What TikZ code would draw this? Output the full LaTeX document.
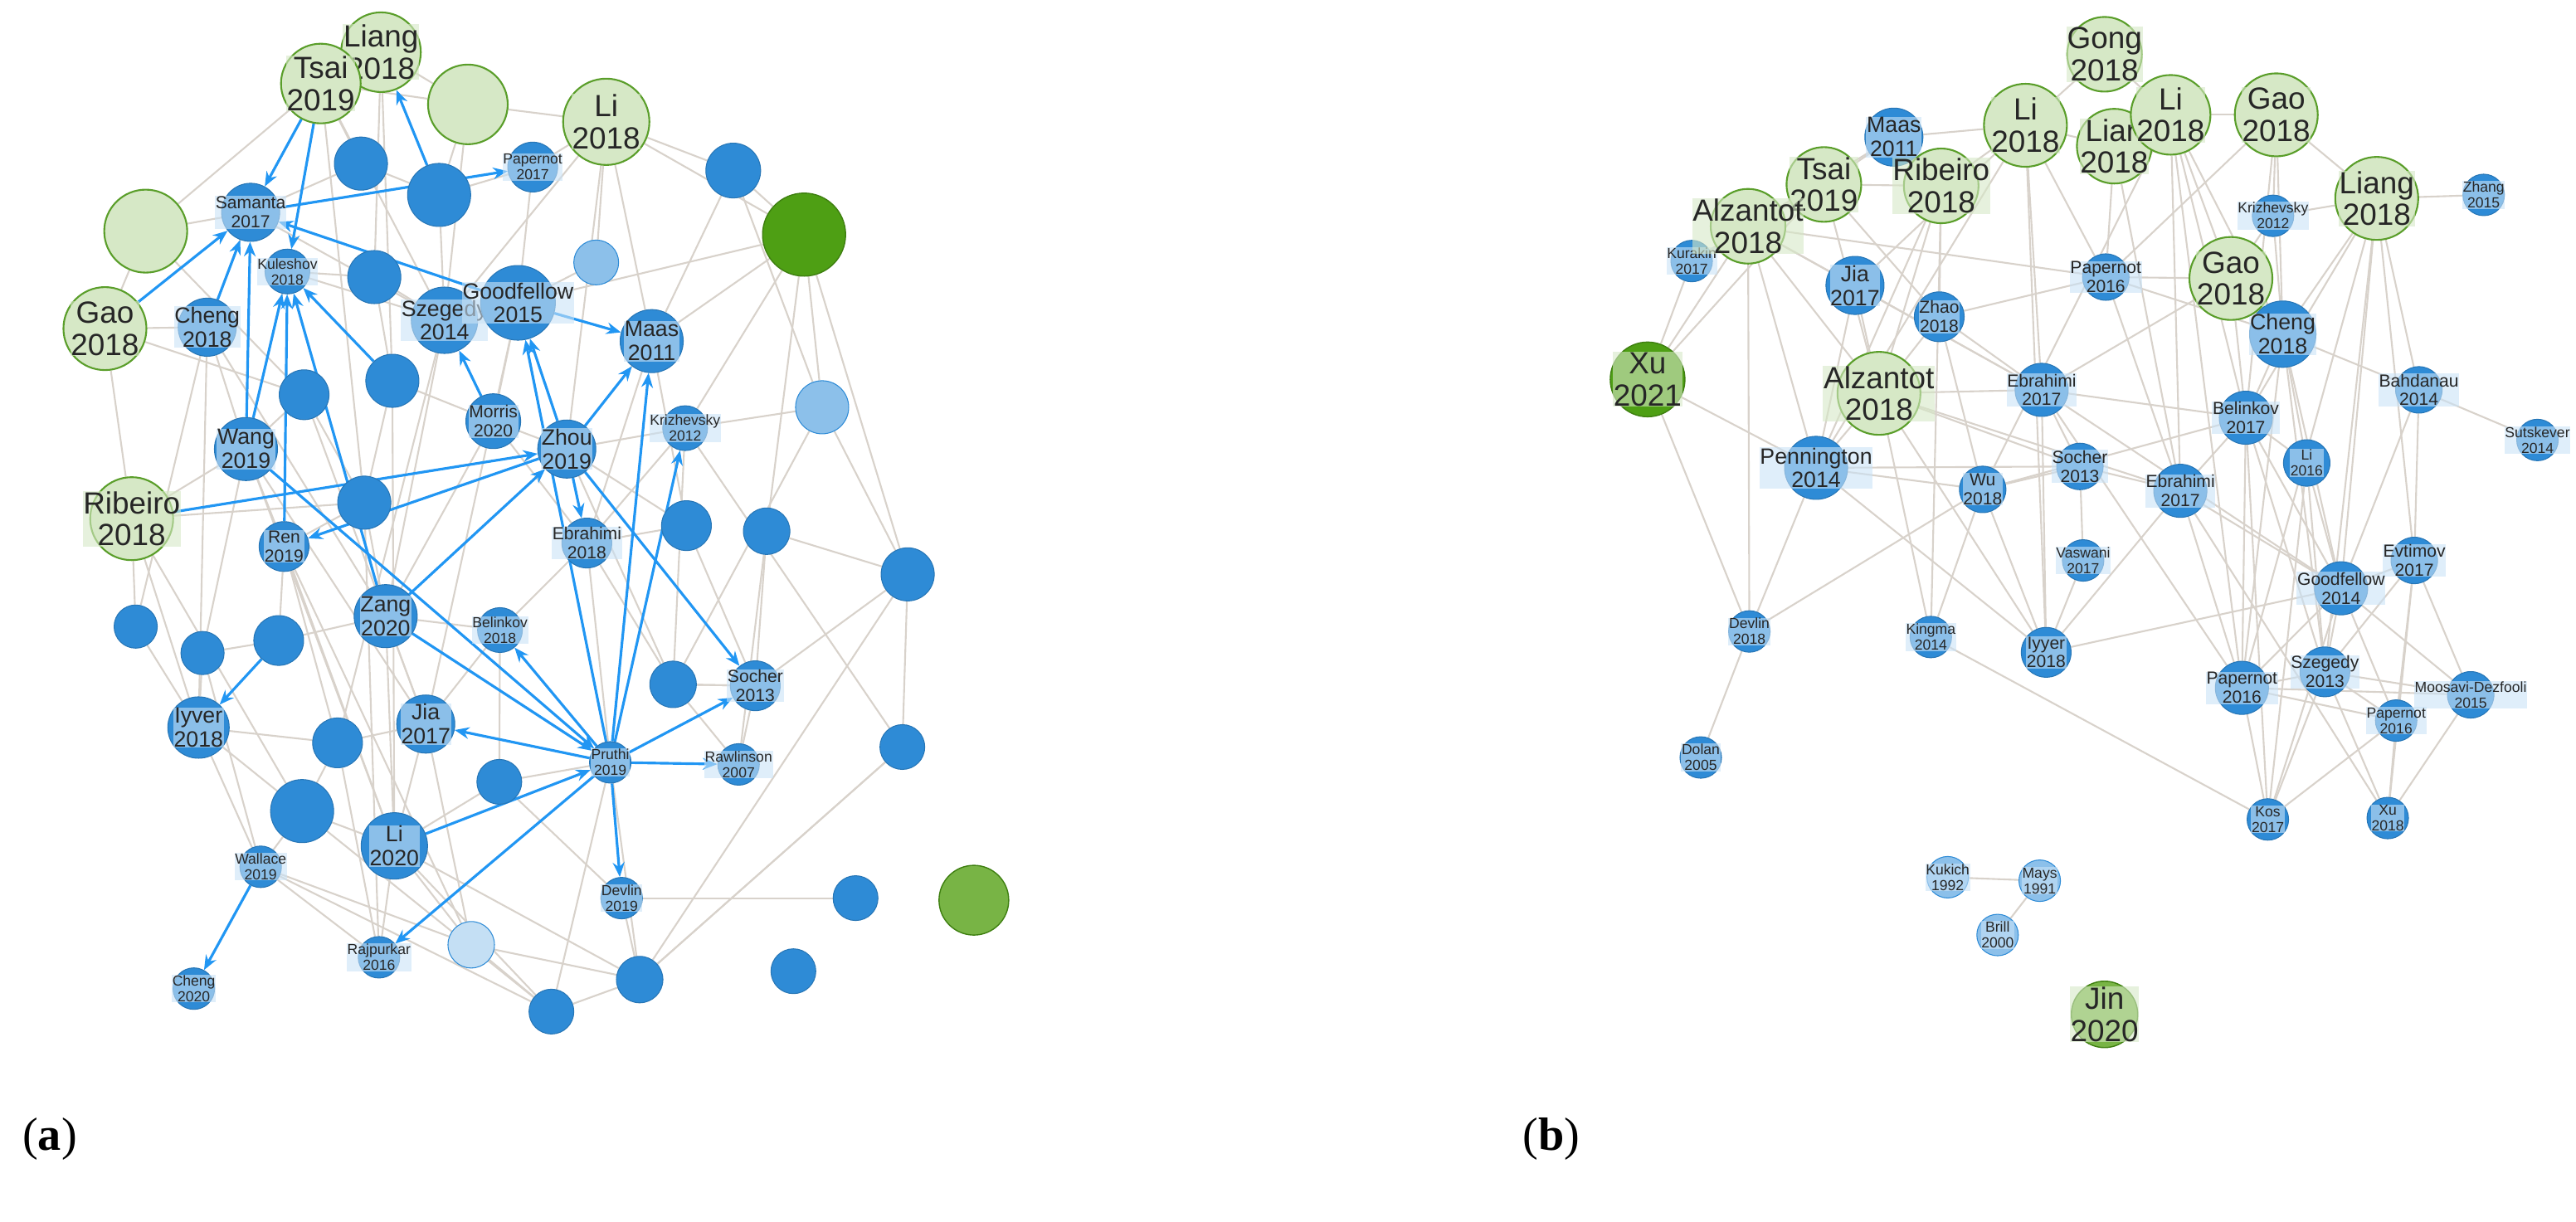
\documentclass[tikz,border=0pt]{standalone}
\usepackage{fontspec}
\setmainfont{Liberation Sans}
\newfontfamily\capfont{Liberation Serif}
\usetikzlibrary{arrows.meta}
\pgfdeclarelayer{bg}
\pgfsetlayers{bg,main}
\definecolor{blu}{HTML}{2E8BD6}
\definecolor{lblu}{HTML}{8CC0EA}
\definecolor{vlblu}{HTML}{C4DFF4}
\definecolor{labb}{HTML}{C9E2F6}
\definecolor{lgr}{HTML}{D6E8C6}
\definecolor{gbd}{HTML}{5A9E2A}
\definecolor{dgr}{HTML}{4E9F14}
\definecolor{mgr}{HTML}{78B445}
\definecolor{edg}{HTML}{D8D2CB}
\definecolor{arr}{HTML}{2196F3}
\tikzset{
 nd/.style={circle,inner sep=0pt,minimum size=#1*0.02cm},
 bn/.style={nd=#1,fill=blu,draw=blu!85!black,line width=0.3pt},
 lbn/.style={nd=#1,fill=lblu,draw=blu,line width=0.3pt},
 vbn/.style={nd=#1,fill=vlblu,draw=blu,line width=0.3pt},
 gn/.style={nd=#1,fill=lgr,draw=gbd,line width=0.6pt},
 dg/.style={nd=#1,fill=dgr,draw=dgr!80!black,line width=0.4pt},
 mg/.style={nd=#1,fill=mgr,draw=dgr!80!black,line width=0.4pt},
 lab/.style={align=center,inner sep=0.2pt,fill=labb,fill opacity=0.6,text opacity=1,text=black!85},
 glab/.style={align=center,inner sep=0.2pt,fill=lgr,fill opacity=0.6,text opacity=1,text=black!85,font=\fontsize{10.5}{11}\selectfont},
 Lb/.style={label={[glab]center:#1}},
 Lm/.style={label={[lab,font=\fontsize{7.6}{8.2}\selectfont]center:#1}},
 Ls/.style={label={[lab,font=\fontsize{6}{6.5}\selectfont]center:#1}},
 Lt/.style={label={[lab,font=\fontsize{5}{5.4}\selectfont]center:#1}},
 ge/.style={draw=edg,line width=0.6pt},
 be/.style={draw=arr,line width=0.9pt,-{Stealth[length=5pt,width=4pt]}},
}
\begin{document}
\begin{tikzpicture}
\useasboundingbox (0,0) rectangle (31.05,14.73);
% ---------------- panel (a)
\begin{scope}[shift={(0,14.73)},x={(0.00806cm,0)},y={(0,-0.00839cm)}]
\node[gn=48,Lb={Liang\\2018}] (aLiang) at (570,75) {};
\node[gn=48,Lb={Tsai\\2019}] (aTsai) at (480,120) {};
\node[gn=48] (aG1) at (700,150) {};
\node[gn=52,Lb={Li\\2018}] (aLi) at (907,175) {};
\node[gn=50] (aG2) at (218,332) {};
\node[gn=50,Lb={Gao\\2018}] (aGao) at (157,472) {};
\node[gn=50,Lb={Ribeiro\\2018}] (aRib) at (197,745) {};
\node[dg=50] (aDG) at (1203,337) {};
\node[mg=42] (aMG) at (1457,1293) {};
\node[bn=35,Ls={Samanta\\2017}] (aSam) at (375,305) {};
\node[bn=30,Lt={Papernot\\2017}] (aPap) at (797,240) {};
\node[bn=27,Lt={Kuleshov\\2018}] (aKul) at (430,390) {};
\node[bn=35,Lm={Cheng\\2018}] (aChe) at (310,470) {};
\node[bn=40,Lm={Szegedy\\2014}] (aSze) at (665,460) {};
\node[bn=45,Lm={Goodfellow\\2015}] (aGoo) at (775,435) {};
\node[bn=38,Lm={Maas\\2011}] (aMaas) at (975,490) {};
\node[bn=33,Ls={Morris\\2020}] (aMor) at (738,605) {};
\node[bn=35,Lm={Zhou\\2019}] (aZhou) at (848,645) {};
\node[bn=27,Lt={Krizhevsky\\2012}] (aKri) at (1025,615) {};
\node[bn=38,Lm={Wang\\2019}] (aWang) at (368,645) {};
\node[bn=30,Ls={Ren\\2019}] (aRen) at (425,785) {};
\node[bn=30,Ls={Ebrahimi\\2018}] (aEbr) at (878,780) {};
\node[bn=38,Lm={Zang\\2020}] (aZang) at (577,885) {};
\node[bn=27,Lt={Belinkov\\2018}] (aBel) at (748,905) {};
\node[bn=30,Ls={Socher\\2013}] (aSoc) at (1130,985) {};
\node[bn=37,Lm={Iyver\\2018}] (aIyv) at (297,1045) {};
\node[bn=35,Lm={Jia\\2017}] (aJia) at (637,1040) {};
\node[bn=25,Lt={Pruthi\\2019}] (aPru) at (913,1095) {};
\node[bn=25,Lt={Rawlinson\\2007}] (aRaw) at (1105,1098) {};
\node[bn=40,Lm={Li\\2020}] (aLi20) at (590,1215) {};
\node[bn=25,Lt={Wallace\\2019}] (aWal) at (390,1245) {};
\node[bn=25,Lt={Devlin\\2019}] (aDev) at (930,1290) {};
\node[bn=25,Lt={Rajpurkar\\2016}] (aRaj) at (567,1375) {};
\node[bn=25,Lt={Cheng\\2020}] (aChe20) at (290,1420) {};
\node[bn=32] (aU1) at (540,235) {};
\node[bn=38] (aU2) at (657,280) {};
\node[bn=33] (aU3) at (1097,245) {};
\node[lbn=27] (aU4) at (892,377) {};
\node[bn=32] (aU5) at (560,398) {};
\node[bn=32] (aU6) at (587,547) {};
\node[bn=30] (aU7) at (455,567) {};
\node[lbn=32] (aU8) at (1230,585) {};
\node[bn=32] (aU9) at (545,722) {};
\node[bn=30] (aU10) at (1027,755) {};
\node[bn=28] (aU11) at (1147,763) {};
\node[bn=32] (aU12) at (1358,825) {};
\node[bn=26] (aU13) at (203,900) {};
\node[bn=26] (aU14) at (303,938) {};
\node[bn=30] (aU15) at (417,920) {};
\node[bn=28] (aU16) at (1007,983) {};
\node[bn=30] (aU17) at (505,1067) {};
\node[bn=27] (aU18) at (747,1123) {};
\node[bn=38] (aU19) at (452,1165) {};
\node[bn=27] (aU20) at (1350,1073) {};
\node[bn=27] (aU21) at (1280,1290) {};
\node[bn=27] (aU22) at (1187,1395) {};
\node[vbn=28] (aU23) at (705,1357) {};
\node[bn=28] (aU24) at (957,1407) {};
\node[bn=27] (aU25) at (825,1453) {};
\begin{pgfonlayer}{bg}
\foreach \a/\b in {aTsai/aG1,aLiang/aG1,aG1/aLi,aLi/aU3,aLi/aDG,aU3/aDG,aTsai/aG2,aG2/aGao,aGao/aRib,aGao/aChe,aG2/aSam,aRib/aU13,aRib/aWang,aRib/aIyv,aU13/aIyv,aU14/aIyv,aIyv/aWal,aIyv/aU19,aWal/aU19,aWal/aRaj,aWal/aU25,aU19/aLi20,aLi20/aRaj,aLi20/aU23,aU23/aU25,aU23/aU24,aU25/aU24,aU24/aDev,aDev/aU21,aU24/aU20,aU20/aU12,aU12/aU8,aU8/aDG,aDG/aU12,aU12/aSoc,aU12/aU11,aDG/aKri,aDG/aMaas,aDG/aGoo,aDG/aU11,aU3/aMaas,aU3/aU8,aU8/aKri,aU11/aSoc,aU10/aSoc,aU10/aZhou,aU10/aEbr,aU16/aRaw,aU16/aSoc,aKri/aZhou,aKri/aU20,aMaas/aZhou,aMaas/aU10,aGoo/aSze,aGoo/aMor,aGoo/aU4,aU4/aLi,aLi/aPap,aPap/aGoo,aPap/aU2,aU2/aU1,aU1/aTsai,aU1/aSam,aU2/aSze,aU5/aSze,aU5/aKul,aU5/aU6,aU6/aMor,aU6/aU9,aU7/aWang,aU7/aU9,aU9/aRen,aU9/aZang,aZang/aJia,aZang/aU15,aZang/aBel,aZang/aLi20,aJia/aLi20,aJia/aU17,aU17/aU19,aU17/aIyv,aU15/aU14,aU14/aWang,aChe/aWang,aChe/aIyv,aChe/aU13,aRen/aU15,aRen/aU17,aMor/aZang,aMor/aEbr,aMor/aZhou,aEbr/aBel,aEbr/aPru,aEbr/aU16,aBel/aJia,aBel/aU18,aU18/aLi20,aU18/aDev,aU18/aPru,aPru/aU24,aPru/aU25,aRaw/aSoc,aSoc/aU16,aLi/aMaas,aLi/aZhou,aLi/aSze,aG1/aSze,aG1/aU2,aTsai/aSze,aLiang/aU5,aSam/aSze,aSam/aChe,aKul/aSze,aKul/aWang,aWang/aRen,aWang/aJia,aWang/aLi20,aChe/aZang,aGao/aU7,aRib/aU9,aRib/aU19,aG2/aU7,aLiang/aU6,aTsai/aU9,aGoo/aJia,aSze/aZang,aSze/aU17,aU6/aLi20,aU7/aJia,aMaas/aEbr,aKri/aEbr,aKri/aU16,aU8/aU16,aU12/aU24,aU20/aU24,aU11/aRaw,aZhou/aU16,aRen/aLi20,aRen/aU23,aU9/aRaj,aU17/aRaj,aJia/aU23,aLi20/aU24,aLi20/aU25,aU19/aU25,aWal/aU23,aU14/aWal}
 \draw[ge] (\a) -- (\b);
\foreach \a/\b in {aTsai/aSam,aTsai/aKul,aGao/aSam,aChe/aSam,aWang/aSam,aWang/aKul,aRen/aKul,aGoo/aSam,aSam/aPap,aU2/aLiang,aZang/aKul,aMor/aSze,aZhou/aGoo,aGoo/aMaas,aZhou/aMaas,aZhou/aEbr,aZhou/aSoc,aZhou/aRen,aRib/aZhou,aZang/aZhou,aPru/aGoo,aPru/aMaas,aPru/aKri,aPru/aBel,aPru/aJia,aPru/aSoc,aPru/aRaw,aPru/aDev,aPru/aRaj,aLi20/aPru,aZang/aPru,aWang/aPru,aU15/aIyv,aWal/aChe20,aU6/aKul}
 \draw[be] (\a) -- (\b);
\end{pgfonlayer}
\end{scope}
% ---------------- panel (b)
\begin{scope}[shift={(19,14.73)},x={(0.00782cm,0)},y={(0,-0.00839cm)}]
\node[gn=45,Lb={Gong\\2018}] (bGong) at (815,78) {};
\node[bn=35,Lm={Maas\\2011}] (bMaas) at (490,197) {};
\node[gn=50,Lb={Li\\2018}] (bLi1) at (693,180) {};
\node[gn=45,Lb={Lian\\2018}] (bLian) at (830,210) {};
\node[gn=48,Lb={Li\\2018}] (bLi2) at (917,165) {};
\node[gn=50,Lb={Gao\\2018}] (bGao1) at (1080,165) {};
\node[gn=45,Lb={Tsai\\2019}] (bTsai) at (382,265) {};
\node[gn=45,Lb={Ribeiro\\2018}] (bRib) at (563,267) {};
\node[bn=25,Lt={Kurakin\\2017}] (bKur) at (178,375) {};
\node[gn=45,Lb={Alzantot\\2018}] (bAlz1) at (265,325) {};
\node[gn=50,Lb={Liang\\2018}] (bLiang) at (1235,285) {};
\node[bn=25,Lt={Zhang\\2015}] (bZhang) at (1400,280) {};
\node[bn=25,Lt={Krizhevsky\\2012}] (bKri) at (1075,310) {};
\node[bn=35,Lm={Jia\\2017}] (bJia) at (430,410) {};
\node[bn=28,Ls={Papernot\\2016}] (bPap1) at (817,398) {};
\node[bn=40,Lm={Cheng\\2018}] (bChe) at (1090,480) {};
\node[gn=50,Lb={Gao\\2018}] (bGao2) at (1010,400) {};
\node[bn=30,Ls={Zhao\\2018}] (bZhao) at (560,455) {};
\node[dg=45,Lb={Xu\\2021}] (bXu21) at (110,545) {};
\node[bn=38,Lm={Pennington\\2014}] (bPen) at (370,672) {};
\node[gn=50,Lb={Alzantot\\2018}] (bAlz2) at (467,565) {};
\node[bn=32,Ls={Ebrahimi\\2017}] (bEbr1) at (718,560) {};
\node[bn=28,Ls={Bahdanau\\2014}] (bBah) at (1300,560) {};
\node[bn=32,Ls={Belinkov\\2017}] (bBel) at (1033,600) {};
\node[bn=25,Lt={Sutskever\\2014}] (bSut) at (1483,632) {};
\node[bn=28,Lt={Li\\2016}] (bLi16) at (1127,665) {};
\node[bn=28,Ls={Socher\\2013}] (bSoc) at (777,670) {};
\node[bn=28,Ls={Wu\\2018}] (bWu) at (627,703) {};
\node[bn=32,Ls={Ebrahimi\\2017}] (bEbr2) at (932,705) {};
\node[bn=25,Lt={Vaswani\\2017}] (bVas) at (782,805) {};
\node[bn=28,Ls={Evtimov\\2017}] (bEvt) at (1293,805) {};
\node[bn=32,Ls={Goodfellow\\2014}] (bGoo) at (1180,845) {};
\node[bn=25,Lt={Devlin\\2018}] (bDev) at (267,907) {};
\node[bn=25,Lt={Kingma\\2014}] (bKin) at (547,915) {};
\node[bn=30,Ls={Iyyer\\2018}] (bIyy) at (725,937) {};
\node[bn=30,Ls={Szegedy\\2013}] (bSze) at (1155,965) {};
\node[bn=32,Ls={Papernot\\2016}] (bPap2) at (1027,988) {};
\node[bn=28,Lt={Moosavi-Dezfooli\\2015}] (bMoo) at (1380,998) {};
\node[bn=25,Lt={Papernot\\2016}] (bPap3) at (1265,1035) {};
\node[bn=25,Lt={Dolan\\2005}] (bDol) at (192,1088) {};
\node[bn=25,Lt={Kos\\2017}] (bKos) at (1067,1177) {};
\node[bn=25,Lt={Xu\\2018}] (bXu18) at (1252,1175) {};
\node[lbn=25,Lt={Kukich\\1992}] (bKuk) at (573,1260) {};
\node[lbn=25,Lt={Mays\\1991}] (bMays) at (715,1265) {};
\node[lbn=25,Lt={Brill\\2000}] (bBrill) at (650,1343) {};
\node[mg=40,Lb={Jin\\2020}] (bJin) at (815,1457) {};
\begin{pgfonlayer}{bg}
\foreach \a/\b in {bXu21/bAlz1,bXu21/bKur,bXu21/bPen,bXu21/bDev,bXu21/bTsai,bDev/bDol,bDev/bPen,bDev/bWu,bDev/bAlz1,bKuk/bMays,bMays/bBrill,bZhang/bLiang,bSut/bBah,bKin/bKos,bKin/bWu,bKin/bAlz2,bKin/bRib,bGong/bLi1,bGong/bLi2,bLi1/bLian,bLi2/bGao1,bLi1/bMaas,bMaas/bTsai,bMaas/bRib,bTsai/bAlz1,bTsai/bRib,bRib/bLi1,bAlz1/bJia,bAlz1/bPap1,bAlz1/bPen,bAlz1/bAlz2,bTsai/bZhao,bTsai/bAlz2,bRib/bZhao,bRib/bAlz2,bRib/bPen,bJia/bAlz2,bJia/bPen,bZhao/bAlz2,bZhao/bEbr1,bZhao/bWu,bAlz2/bEbr1,bAlz2/bPen,bAlz2/bSoc,bAlz2/bEbr2,bAlz2/bIyy,bPen/bWu,bPen/bIyy,bPen/bSoc,bEbr1/bSoc,bEbr1/bIyy,bEbr1/bBel,bEbr1/bLi1,bEbr1/bGoo,bEbr1/bPap2,bSoc/bVas,bSoc/bEbr2,bWu/bSoc,bWu/bIyy,bWu/bLi2,bVas/bIyy,bEbr2/bIyy,bEbr2/bBel,bEbr2/bGoo,bEbr2/bLi2,bEbr2/bPap1,bPap1/bGao2,bPap1/bChe,bPap1/bLi1,bPap1/bZhao,bGao2/bChe,bGao2/bBel,bGao2/bKri,bGao2/bLi2,bChe/bBel,bChe/bLi16,bChe/bGoo,bChe/bSze,bChe/bPap2,bChe/bBah,bChe/bLiang,bChe/bKri,bBel/bLi16,bBel/bPap2,bBel/bGoo,bBel/bSze,bBel/bWu,bLi16/bGoo,bLi16/bSze,bLi16/bKos,bBah/bEvt,bBah/bGoo,bBah/bLiang,bLiang/bKri,bLiang/bGao1,bLiang/bSze,bLiang/bGoo,bLiang/bEvt,bLiang/bBel,bLiang/bPap2,bGao1/bKri,bGao1/bChe,bGao1/bPap1,bLian/bEbr2,bLian/bLi2,bLian/bPap1,bLi1/bIyy,bLi1/bPen,bLi2/bPap2,bLi2/bChe,bEvt/bGoo,bEvt/bSze,bEvt/bMoo,bEvt/bXu18,bEvt/bPap3,bGoo/bSze,bGoo/bPap2,bGoo/bMoo,bGoo/bPap3,bGoo/bKos,bGoo/bIyy,bSze/bPap2,bSze/bPap3,bSze/bKos,bSze/bXu18,bSze/bMoo,bPap2/bKos,bPap2/bPap3,bPap2/bMoo,bPap3/bXu18,bMoo/bXu18,bPap3/bKos,bKur/bAlz1,bKur/bTsai,bGao1/bBel,bGao2/bEbr1,bLi2/bBel,bJia/bEbr1,bAlz1/bEbr1,bMaas/bAlz1,bLi1/bJia,bBel/bKos,bEbr2/bPap2,bEbr2/bXu18}
 \draw[ge] (\a) -- (\b);
\end{pgfonlayer}
\end{scope}
\node[font=\fontsize{16}{18}\selectfont\capfont] (capa) at (0.6,1.0) {(\textbf{a})};
\node[font=\fontsize{16}{18}\selectfont\capfont] (capb) at (18.7,1.0) {(\textbf{b})};
\end{tikzpicture}
\end{document}
